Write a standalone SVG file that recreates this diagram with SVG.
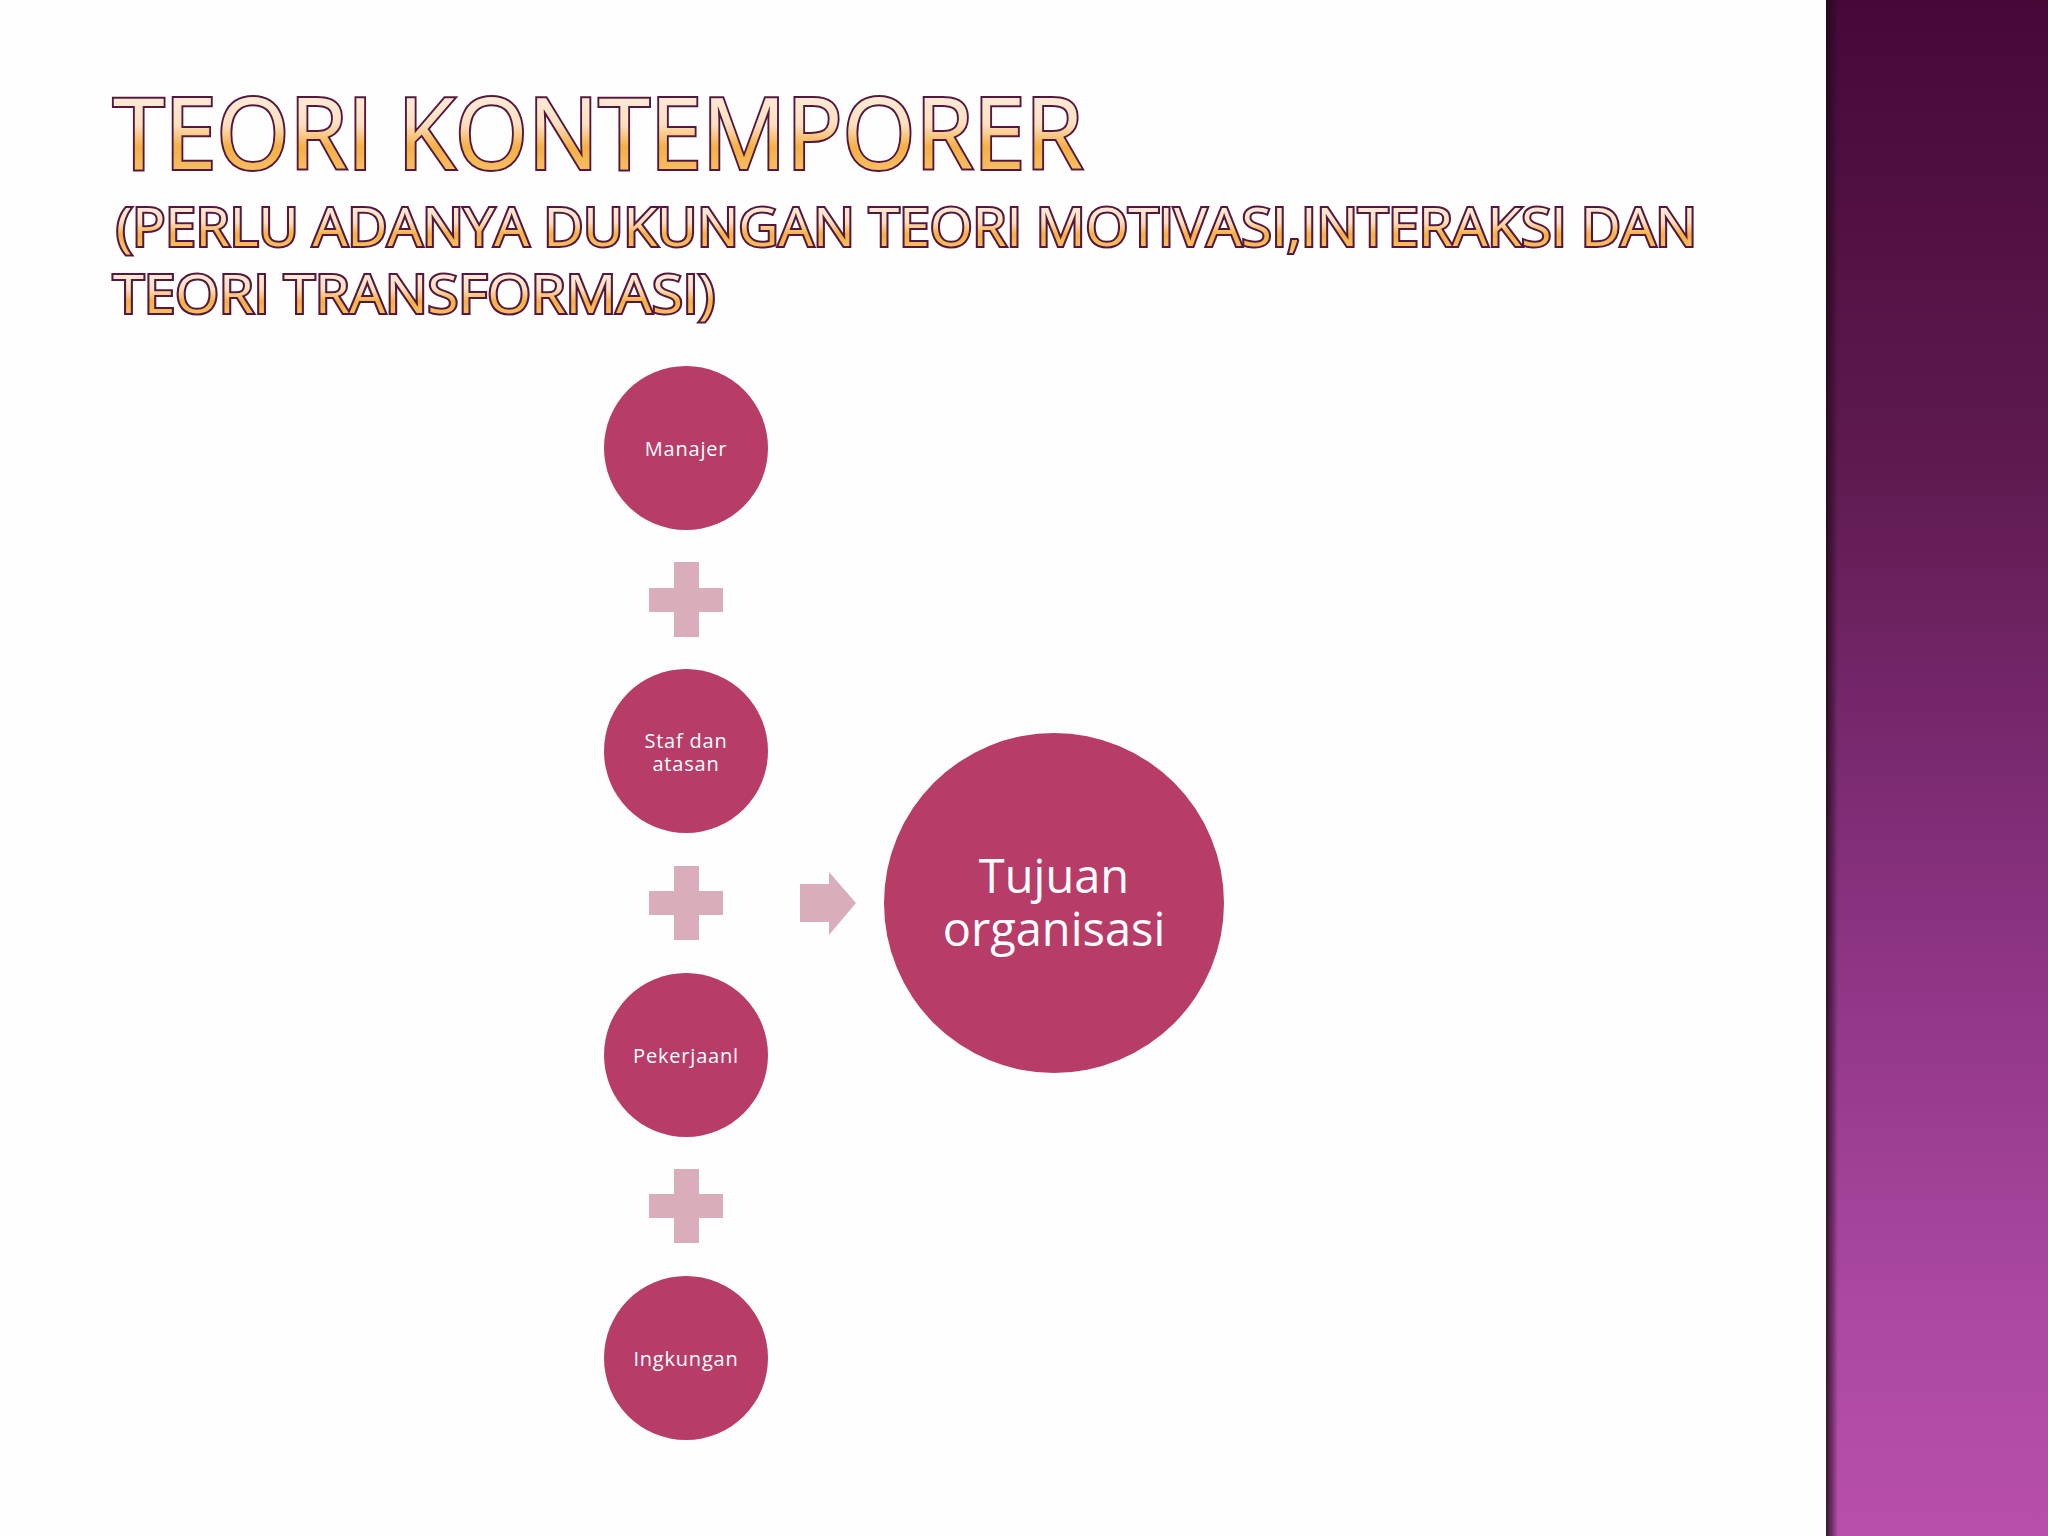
<svg xmlns="http://www.w3.org/2000/svg" width="2048" height="1536" viewBox="0 0 2048 1536">
  <defs>
    <linearGradient id="titleGrad" x1="0" y1="0" x2="0" y2="1">
      <stop offset="0" stop-color="#fef6ee"/>
      <stop offset="0.45" stop-color="#fbe0c0"/>
      <stop offset="0.62" stop-color="#f3b043"/>
      <stop offset="1" stop-color="#fad08a"/>
    </linearGradient>
    <linearGradient id="bandGrad" x1="0" y1="0" x2="0" y2="1">
      <stop offset="0" stop-color="#470838"/>
      <stop offset="0.3" stop-color="#5e1a4f"/>
      <stop offset="0.6" stop-color="#8a3282"/>
      <stop offset="0.85" stop-color="#ab48a0"/>
      <stop offset="1" stop-color="#b84faa"/>
    </linearGradient>
    <linearGradient id="edgeGrad" x1="0" y1="0" x2="1" y2="0">
      <stop offset="0" stop-color="#1e0a1a" stop-opacity="0.85"/>
      <stop offset="0.5" stop-color="#1e0a1a" stop-opacity="0.45"/>
      <stop offset="1" stop-color="#1e0a1a" stop-opacity="0"/>
    </linearGradient>
    <style>
      .title { font-family: "Open Sans", "Liberation Sans", sans-serif; fill: url(#titleGrad); stroke: #55163f; stroke-width: 4; paint-order: stroke; }
      .node { fill: #b83c68; }
      .op { fill: #d9aeba; }
      .lbl { font-family: "Open Sans", "Liberation Sans", sans-serif; font-size: 20px; fill: #ffffff; text-anchor: middle; letter-spacing: 0.8px; }
      .big { font-family: "Open Sans", "Liberation Sans", sans-serif; font-size: 47px; fill: #ffffff; text-anchor: middle; }
    </style>
  </defs>

  <rect x="0" y="0" width="2048" height="1536" fill="#fefefe"/>

  <!-- right decorative band -->
  <rect x="1826" y="0" width="222" height="1536" fill="url(#bandGrad)"/>
  <rect x="1826" y="0" width="12" height="1536" fill="url(#edgeGrad)"/>

  <!-- title -->
  <text class="title" x="113" y="169" font-size="98" textLength="970" lengthAdjust="spacingAndGlyphs">TEORI KONTEMPORER</text>
  <text class="title" x="116" y="246" font-size="53" textLength="1581" lengthAdjust="spacingAndGlyphs">(PERLU ADANYA DUKUNGAN TEORI MOTIVASI,INTERAKSI DAN</text>
  <text class="title" x="113" y="313" font-size="53" textLength="602" lengthAdjust="spacingAndGlyphs">TEORI TRANSFORMASI)</text>

  <!-- operators / connectors -->
  <g id="connectors">
    <path class="op" d="M674,562 h25 v26 h24 v24 h-24 v25 h-25 v-25 h-25 v-24 h25 z"/>
    <path class="op" d="M674,866 h25 v25 h24 v24 h-24 v25 h-25 v-25 h-25 v-24 h25 z"/>
    <path class="op" d="M674,1169 h25 v25 h24 v24 h-24 v25 h-25 v-25 h-25 v-24 h25 z"/>
    <path class="op" d="M800,884 h29 v-12 l27,31 l-27,32 v-13 h-29 z"/>
  </g>

  <g id="node-manajer">
    <circle class="node" cx="686" cy="448" r="82"/>
    <text class="lbl" x="686" y="456">Manajer</text>
  </g>

  <g id="node-staf">
    <circle class="node" cx="686" cy="751" r="82"/>
    <text class="lbl" x="686" y="748">Staf dan</text>
    <text class="lbl" x="686" y="771">atasan</text>
  </g>

  <g id="node-pekerjaan">
    <circle class="node" cx="686" cy="1055" r="82"/>
    <text class="lbl" x="686" y="1063">Pekerjaanl</text>
  </g>

  <g id="node-ingkungan">
    <circle class="node" cx="686" cy="1358" r="82"/>
    <text class="lbl" x="686" y="1366">Ingkungan</text>
  </g>

  <g id="node-tujuan">
    <circle class="node" cx="1054" cy="903" r="170"/>
    <text class="big" x="1054" y="893">Tujuan</text>
    <text class="big" x="1054" y="946">organisasi</text>
  </g>
</svg>
